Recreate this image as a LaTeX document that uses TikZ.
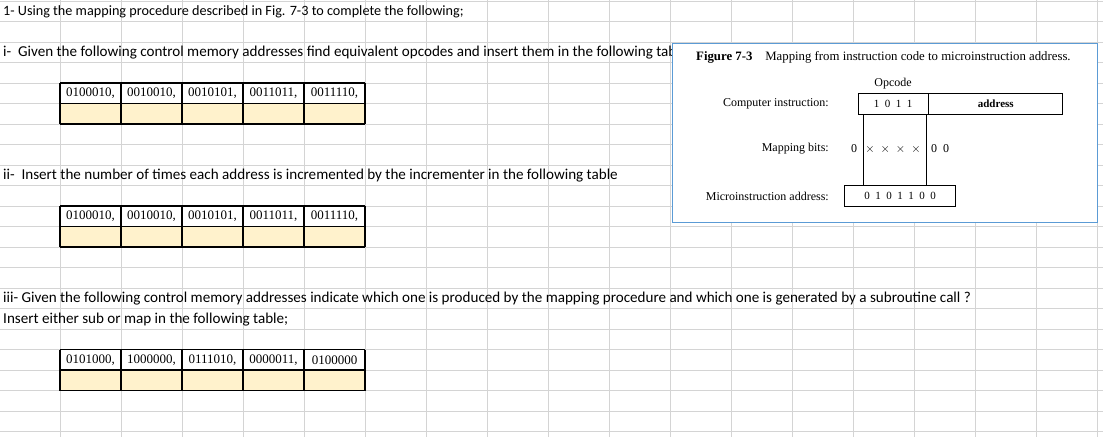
\documentclass[tikz,border=0pt]{standalone}
\usepackage{fontspec}
\setmainfont{Carlito}
\newfontfamily\timesf{Liberation Serif}
\definecolor{gridc}{HTML}{D4D4D4}
\definecolor{ansc}{HTML}{FFF2CC}
\definecolor{figc}{HTML}{5B9BD5}
\begin{document}
\begin{tikzpicture}[x=1pt,y=-1pt,
  txt/.style={anchor=west,inner sep=0pt,font=\fontsize{15.1}{17}\selectfont},
  val/.style={inner sep=0pt,font=\timesf\fontsize{13}{14}\selectfont},
  fig/.style={inner sep=0pt,font=\timesf\fontsize{12}{13}\selectfont},
  tb/.style={draw=black,line width=1.6pt}]
\useasboundingbox (0,0) rectangle (1103,437);
\fill[white] (0,0) rectangle (1103,437);
% grid
\foreach \k in {0,...,21} \draw[gridc,line width=0.8pt] (0,1+20.5*\k) -- (1103,1+20.5*\k);
\foreach \k in {0,...,17} \draw[gridc,line width=0.8pt] (60+61*\k,0) -- (60+61*\k,437);
% texts
\node[txt,font=\fontsize{14.2}{16}\selectfont] (t1) at (3,11.5) {1- Using the mapping procedure described in Fig. 7-3 to complete the following;};
\node[txt] (t2) at (3,52.5) {i-\ \ Given the following control memory addresses find equivalent opcodes and insert them in the following table};
\node[txt] (t3) at (3,175.5) {ii-\ \ Insert the number of times each address is incremented by the incrementer in the following table};
\node[txt] (t4) at (3,299) {iii- Given the following control memory addresses indicate which one is produced by the mapping procedure and which one is generated by a subroutine call ?};
\node[txt] (t5) at (3,319.5) {Insert either sub or map in the following table;};
% tables
\foreach \y/\nm in {83/a, 206/b, 349.5/c}{
  \fill[ansc] (60,\y+20.5) rectangle (365,\y+41);
  \foreach \k in {0,...,5} \draw[tb] (60+61*\k,\y) -- (60+61*\k,\y+41);
  \foreach \k in {0,1,2} \draw[tb] (60,\y+20.5*\k) -- (365,\y+20.5*\k);
}
\foreach \y/\nm in {83/a, 206/b}{
  \foreach \v [count=\i from 0] in {{0100010,},{0010010,},{0010101,},{0011011,},{0011110,}}
    \node[val] (\nm\i) at (90.5+61*\i,\y+10.5) {\v};
}
\foreach \v [count=\i from 0] in {{0101000,},{1000000,},{0111010,},{0000011,},{0100000}}
  \node[val] (c\i) at (90.5+61*\i,360) {\v};
% figure
\draw[figc,fill=white,line width=0.8pt] (672,43) rectangle (1097,222);
\node[fig,anchor=west,font=\timesf\fontsize{12.8}{14}\selectfont] (ft) at (696,57) {\textbf{Figure 7-3}\quad Mapping from instruction code to microinstruction address.};
\node[fig] (op) at (893,84) {Opcode};
\node[fig,anchor=east] (ci) at (829,104) {Computer instruction:};
\node[fig,anchor=east] (mb) at (829,149) {Mapping bits:};
\node[fig,anchor=east] (ma) at (829,196) {Microinstruction address:};
\node[draw,line width=0.8pt,minimum width=70pt,minimum height=21pt,inner sep=0pt,font=\timesf\fontsize{11}{12}\selectfont] (opb) at (893,104) {1\ \ 0\ \ 1\ \ 1};
\node[draw,line width=0.8pt,minimum width=134pt,minimum height=21pt,inner sep=0pt,font=\timesf\bfseries\fontsize{11}{12}\selectfont,anchor=west] (adb) at (opb.east) {address};
\node[draw,line width=0.8pt,minimum width=111pt,minimum height=21pt,inner sep=0pt,font=\timesf\fontsize{11}{12}\selectfont] (mib) at (900,196) {0\ \ 1\ \ 0\ \ 1\ \ 1\ \ 0\ \ 0};
\coordinate (l1t) at (863,114.5);
\coordinate (l2t) at (926,114.5);
\draw[line width=0.8pt] (l1t) -- (l1t |- mib.north);
\draw[line width=0.8pt] (l2t) -- (l2t |- mib.north);
\node[fig] (m0) at (854,149) {0};
\node[fig] (mx) at (893,149) {$\times$\ \ $\times$\ \ $\times$\ \ $\times$};
\node[fig] (m00) at (940,149) {0\ \ 0};
\end{tikzpicture}
\end{document}
